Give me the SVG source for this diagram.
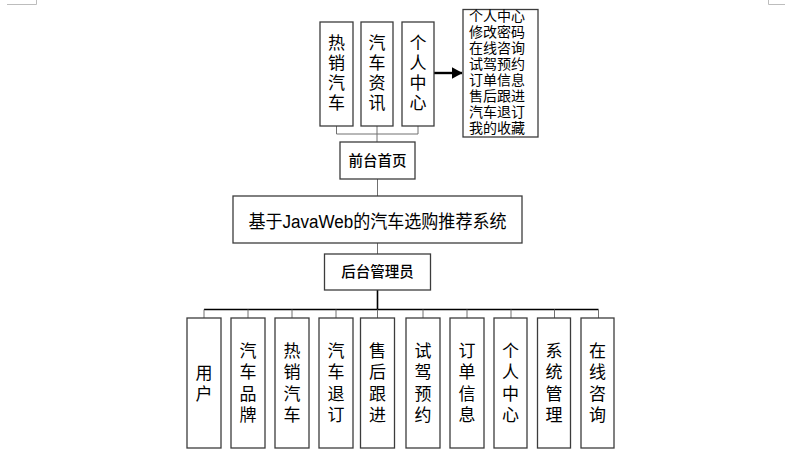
<svg xmlns="http://www.w3.org/2000/svg" width="785" height="451" viewBox="0 0 785 451">
<style>
.box{fill:#fff;stroke:#3c3c3c;stroke-width:1.3}
.t{font-family:"Liberation Sans","Noto Sans CJK SC",sans-serif;fill:#000;text-anchor:middle;dominant-baseline:central}
.v{font-size:17px}
.l{font-size:14px;text-anchor:start}
.h{font-size:14.5px;font-weight:500}
.thin{stroke:#707070;stroke-width:1;fill:none}
.thick{stroke:#000;stroke-width:1.6;fill:none}
.mark{stroke:#bdbdbd;stroke-width:1;fill:none}
</style>
<defs>
<marker id="ah" markerWidth="11" markerHeight="12" refX="10.5" refY="6" orient="auto" markerUnits="userSpaceOnUse">
<path d="M0,0 L11,6 L0,12 Z" fill="#000"/>
</marker>
</defs>
<rect width="785" height="451" fill="#fff"/>
<g id="page-marks">
<path class="mark" d="M7,4.5 H36.5 V0 M768.5,0 V4.5 H785"/>
</g>
<g id="connectors">
<path class="thin" d="M336.5,126 V134 H418 V126 M377,126 V142"/>
<path class="thin" d="M377.5,179 V196 M377.5,243 V254"/>
<path class="thick" d="M434,73 H462" marker-end="url(#ah)" style="stroke-width:2.4"/>
<path class="thick" d="M377.5,290 V309.5 M204,309.5 H598.5"/>
<path class="thin" d="M204,309.5 V318 M248,309.5 V318 M292,309.5 V318 M336,309.5 V318 M377.5,309.5 V318 M423,309.5 V318 M467,309.5 V318 M511,309.5 V318 M554.5,309.5 V318 M598.5,309.5 V318"/>
</g>
<g id="n-rexiao-top">
<rect class="box" x="320" y="22" width="33" height="104"/>
<text class="t v" x="336.5" y="43">热</text><text class="t v" x="336.5" y="63">销</text><text class="t v" x="336.5" y="83">汽</text><text class="t v" x="336.5" y="103">车</text>
</g>
<g id="n-zixun">
<rect class="box" x="361" y="22" width="32" height="104"/>
<text class="t v" x="377" y="43">汽</text><text class="t v" x="377" y="63">车</text><text class="t v" x="377" y="83">资</text><text class="t v" x="377" y="103">讯</text>
</g>
<g id="n-geren-top">
<rect class="box" x="402" y="22" width="32" height="104"/>
<text class="t v" x="418" y="43">个</text><text class="t v" x="418" y="63">人</text><text class="t v" x="418" y="83">中</text><text class="t v" x="418" y="103">心</text>
</g>
<g id="n-list">
<rect class="box" x="463" y="9.5" width="75" height="127.5"/>
<text class="t l" x="469" y="16">个人中心</text>
<text class="t l" x="469" y="32">修改密码</text>
<text class="t l" x="469" y="48">在线咨询</text>
<text class="t l" x="469" y="64">试驾预约</text>
<text class="t l" x="469" y="80">订单信息</text>
<text class="t l" x="469" y="96">售后跟进</text>
<text class="t l" x="469" y="112">汽车退订</text>
<text class="t l" x="469" y="128">我的收藏</text>
</g>
<g id="n-qiantai">
<rect class="box" x="340" y="142" width="75" height="37"/>
<text class="t h" x="377.5" y="161">前台首页</text>
</g>
<g id="n-main">
<rect class="box" x="233" y="196" width="289" height="47"/>
<text class="t" style="font-size:18px" x="377.5" y="221.5" textLength="258" lengthAdjust="spacingAndGlyphs">基于JavaWeb的汽车选购推荐系统</text>
</g>
<g id="n-houtai">
<rect class="box" x="324.5" y="254" width="106" height="36"/>
<text class="t h" x="377.5" y="272">后台管理员</text>
</g>
<g id="n-yonghu">
<rect class="box" x="187" y="318" width="34" height="130"/>
<text class="t v" x="204" y="373">用</text><text class="t v" x="204" y="394">户</text>
</g>
<g id="n-pinpai">
<rect class="box" x="231" y="318" width="34" height="130"/>
<text class="t v" x="248" y="351">汽</text><text class="t v" x="248" y="372.5">车</text><text class="t v" x="248" y="394">品</text><text class="t v" x="248" y="415.5">牌</text>
</g>
<g id="n-rexiao">
<rect class="box" x="275" y="318" width="34" height="130"/>
<text class="t v" x="292" y="351">热</text><text class="t v" x="292" y="372.5">销</text><text class="t v" x="292" y="394">汽</text><text class="t v" x="292" y="415.5">车</text>
</g>
<g id="n-tuiding">
<rect class="box" x="319" y="318" width="34" height="130"/>
<text class="t v" x="336" y="351">汽</text><text class="t v" x="336" y="372.5">车</text><text class="t v" x="336" y="394">退</text><text class="t v" x="336" y="415.5">订</text>
</g>
<g id="n-shouhou">
<rect class="box" x="360.5" y="318" width="34" height="130"/>
<text class="t v" x="377.5" y="351">售</text><text class="t v" x="377.5" y="372.5">后</text><text class="t v" x="377.5" y="394">跟</text><text class="t v" x="377.5" y="415.5">进</text>
</g>
<g id="n-shijia">
<rect class="box" x="406" y="318" width="34" height="130"/>
<text class="t v" x="423" y="351">试</text><text class="t v" x="423" y="372.5">驾</text><text class="t v" x="423" y="394">预</text><text class="t v" x="423" y="415.5">约</text>
</g>
<g id="n-dingdan">
<rect class="box" x="450" y="318" width="34" height="130"/>
<text class="t v" x="467" y="351">订</text><text class="t v" x="467" y="372.5">单</text><text class="t v" x="467" y="394">信</text><text class="t v" x="467" y="415.5">息</text>
</g>
<g id="n-geren">
<rect class="box" x="494" y="318" width="33" height="130"/>
<text class="t v" x="510.5" y="351">个</text><text class="t v" x="510.5" y="372.5">人</text><text class="t v" x="510.5" y="394">中</text><text class="t v" x="510.5" y="415.5">心</text>
</g>
<g id="n-xitong">
<rect class="box" x="537.5" y="318" width="33" height="130"/>
<text class="t v" x="554" y="351">系</text><text class="t v" x="554" y="372.5">统</text><text class="t v" x="554" y="394">管</text><text class="t v" x="554" y="415.5">理</text>
</g>
<g id="n-zixun-b">
<rect class="box" x="581" y="318" width="33" height="130"/>
<text class="t v" x="597.5" y="351">在</text><text class="t v" x="597.5" y="372.5">线</text><text class="t v" x="597.5" y="394">咨</text><text class="t v" x="597.5" y="415.5">询</text>
</g>
</svg>
